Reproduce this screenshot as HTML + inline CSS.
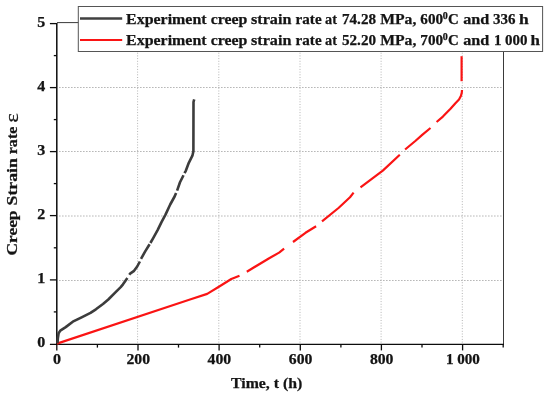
<!DOCTYPE html>
<html><head><meta charset="utf-8">
<style>
html,body{margin:0;padding:0;background:#fff;}
svg{display:block;}
text{font-family:"Liberation Serif","DejaVu Serif",serif;font-weight:bold;fill:#141414;stroke:#141414;stroke-width:0.25px;}
</style></head><body>
<svg width="550" height="394" viewBox="0 0 550 394">
<rect width="550" height="394" fill="#fff"/>
<!-- grid -->
<g stroke="#a8a8a8" stroke-width="1" stroke-dasharray="1.3 1.7" fill="none">
<line x1="59.2" y1="87.5" x2="503" y2="87.5"/>
<line x1="59.2" y1="151.5" x2="503" y2="151.5"/>
<line x1="59.2" y1="216" x2="503" y2="216"/>
<line x1="59.2" y1="280.5" x2="503" y2="280.5"/>
</g>
<g stroke="#b4b4b4" stroke-width="1" stroke-dasharray="1 1.7" fill="none">
<line x1="137.6" y1="23" x2="137.6" y2="343"/>
<line x1="218.8" y1="23" x2="218.8" y2="343"/>
<line x1="300" y1="23" x2="300" y2="343"/>
<line x1="381.1" y1="23" x2="381.1" y2="343"/>
<line x1="462.3" y1="23" x2="462.3" y2="343"/>
</g>
<!-- frame thin -->
<g stroke="#3a3a3a" stroke-width="1" fill="none">
<line x1="57" y1="22.6" x2="503.7" y2="22.6"/>
<line x1="503.5" y1="22" x2="503.5" y2="344"/>
</g>
<!-- main axes -->
<g stroke="#0c0c0c" stroke-width="1.5" fill="none">
<line x1="56.8" y1="22.9" x2="56.8" y2="344.8"/>
<line x1="49.9" y1="344.4" x2="503.9" y2="344.4" stroke-width="1.3"/>
</g>
<g stroke="#0c0c0c" stroke-width="1.3" fill="none">
<line x1="49.9" y1="23.6" x2="56.8" y2="23.6"/>
<line x1="49.9" y1="87.6" x2="56.8" y2="87.6"/>
<line x1="49.9" y1="151.6" x2="56.8" y2="151.6"/>
<line x1="49.9" y1="215.6" x2="56.8" y2="215.6"/>
<line x1="49.9" y1="279.9" x2="56.8" y2="279.9"/>
<line x1="56.8" y1="344" x2="56.8" y2="350.4"/>
<line x1="138.0" y1="344" x2="138.0" y2="350.4"/>
<line x1="219.1" y1="344" x2="219.1" y2="350.4"/>
<line x1="300.3" y1="344" x2="300.3" y2="350.4"/>
<line x1="381.4" y1="344" x2="381.4" y2="350.4"/>
<line x1="462.6" y1="344" x2="462.6" y2="350.4"/>
<line x1="53.8" y1="55.6" x2="56.8" y2="55.6"/>
<line x1="53.8" y1="119.6" x2="56.8" y2="119.6"/>
<line x1="53.8" y1="183.6" x2="56.8" y2="183.6"/>
<line x1="53.8" y1="247.8" x2="56.8" y2="247.8"/>
<line x1="53.8" y1="311.9" x2="56.8" y2="311.9"/>
<line x1="97.4" y1="344" x2="97.4" y2="347.6"/>
<line x1="178.5" y1="344" x2="178.5" y2="347.6"/>
<line x1="259.7" y1="344" x2="259.7" y2="347.6"/>
<line x1="340.9" y1="344" x2="340.9" y2="347.6"/>
<line x1="422.0" y1="344" x2="422.0" y2="347.6"/>
<line x1="503.2" y1="344" x2="503.2" y2="347.6"/>
</g>
<!-- red curve -->
<g stroke="#fa1414" stroke-width="2.2" fill="none" stroke-linecap="butt" stroke-linejoin="round">
<polyline points="57,343.6 190,299.5 207.2,293.9 219.7,286.3 231.3,279 239.5,275.7"/>
<polyline points="246.8,271.7 269.2,258.2 279.1,252.6 284.1,248.6"/>
<polyline points="293,242 305.5,232.8 316.1,226.2"/>
<polyline points="322,221.3 338.5,208 350,197.2 353.6,192.6"/>
<polyline points="360.5,187.3 382.8,170.6 399.8,154.8"/>
<polyline points="405.1,149.5 415.3,141 422.5,134.6 430.5,128"/>
<polyline points="436.6,122 442.9,116.6 450.5,108.7 455.2,103.4 459,99.5 461,95.7 461.8,92.5 462,90"/>
<polyline points="461.6,81.2 461.6,56.2"/>
</g>
<!-- black curve -->
<g stroke="#3c3c3c" stroke-width="2.6" fill="none" stroke-linecap="butt" stroke-linejoin="round">
<polyline points="57.5,343.4 57.9,338 58.6,333.3 60.3,330.6 65.7,327.1 72.8,321.7 81.6,317.3 90.5,312.9 95.9,309.3 103,304 108.3,299.5 115.4,292.4 120.7,287.1 123,284.3 127.4,278"/>
<polyline points="129.3,274.8 130.1,273.6 133.7,271.2 137.2,266.5 139.9,261.5"/>
<polyline points="141,258.8 145.2,251.4 149.6,244.3"/>
<polyline points="150.4,243 153.2,238.1 157.6,230.1 161.5,222.1 165.5,214.6 170.2,204.5 174.6,196.5 176.1,193"/>
<polyline points="177.1,190.6 180,182.3 183.5,175.2"/>
<polyline points="184.5,173.2 185.8,170.8 188.8,162.8 192.4,155.7 193.4,151.2 193.5,102 194.2,99.3"/>
</g>
<!-- legend -->
<rect x="78.3" y="6.5" width="464.3" height="45" fill="#fff" stroke="#555" stroke-width="1"/>
<line x1="80" y1="18.5" x2="122.2" y2="18.5" stroke="#404040" stroke-width="2.5"/>
<line x1="80" y1="40" x2="122.2" y2="40" stroke="#fa1414" stroke-width="2.2"/>
<text y="24.3" font-size="15"><tspan x="126.1" textLength="80.5" lengthAdjust="spacingAndGlyphs">Experiment</tspan> <tspan x="210.7" textLength="36.7" lengthAdjust="spacingAndGlyphs">creep</tspan> <tspan x="251.0" textLength="40.4" lengthAdjust="spacingAndGlyphs">strain</tspan> <tspan x="295.6" textLength="26.0" lengthAdjust="spacingAndGlyphs">rate</tspan> <tspan x="325.0" textLength="11.9" lengthAdjust="spacingAndGlyphs">at</tspan> <tspan x="342.0" textLength="34.0" lengthAdjust="spacingAndGlyphs">74.28</tspan> <tspan x="380.2" textLength="36.2" lengthAdjust="spacingAndGlyphs">MPa,</tspan> <tspan x="420.3" textLength="22.8" lengthAdjust="spacingAndGlyphs">600</tspan> <tspan x="442.8" dy="-5.5" font-size="10">0</tspan><tspan x="448.1" dy="5.5" textLength="10.8" lengthAdjust="spacingAndGlyphs">C</tspan> <tspan x="463.2" textLength="26.1" lengthAdjust="spacingAndGlyphs">and</tspan> <tspan x="493.1" textLength="22.5" lengthAdjust="spacingAndGlyphs">336</tspan> <tspan x="519.0" textLength="9.7" lengthAdjust="spacingAndGlyphs">h</tspan></text>
<text y="45.4" font-size="15"><tspan x="126.1" textLength="80.5" lengthAdjust="spacingAndGlyphs">Experiment</tspan> <tspan x="210.7" textLength="36.7" lengthAdjust="spacingAndGlyphs">creep</tspan> <tspan x="251.0" textLength="40.4" lengthAdjust="spacingAndGlyphs">strain</tspan> <tspan x="295.6" textLength="26.0" lengthAdjust="spacingAndGlyphs">rate</tspan> <tspan x="325.0" textLength="11.9" lengthAdjust="spacingAndGlyphs">at</tspan> <tspan x="342.0" textLength="34.0" lengthAdjust="spacingAndGlyphs">52.20</tspan> <tspan x="380.2" textLength="36.2" lengthAdjust="spacingAndGlyphs">MPa,</tspan> <tspan x="420.3" textLength="22.8" lengthAdjust="spacingAndGlyphs">700</tspan> <tspan x="442.8" dy="-5.5" font-size="10">0</tspan><tspan x="448.1" dy="5.5" textLength="10.8" lengthAdjust="spacingAndGlyphs">C</tspan> <tspan x="463.2" textLength="26.1" lengthAdjust="spacingAndGlyphs">and</tspan> <tspan x="493.9" textLength="33.7" lengthAdjust="spacingAndGlyphs">1 000</tspan> <tspan x="530.4" textLength="9.4" lengthAdjust="spacingAndGlyphs">h</tspan></text>
<!-- tick labels -->
<g font-size="13.7">
<text x="37.3" y="26.65" textLength="8" lengthAdjust="spacingAndGlyphs">5</text>
<text x="37.3" y="90.65" textLength="8" lengthAdjust="spacingAndGlyphs">4</text>
<text x="37.3" y="154.65" textLength="8" lengthAdjust="spacingAndGlyphs">3</text>
<text x="37.3" y="218.65" textLength="8" lengthAdjust="spacingAndGlyphs">2</text>
<text x="37.3" y="282.95" textLength="8" lengthAdjust="spacingAndGlyphs">1</text>
<text x="37.3" y="346.95" textLength="8" lengthAdjust="spacingAndGlyphs">0</text>
</g>
<g font-size="13.7">
<text x="53.1" y="363.8" textLength="8" lengthAdjust="spacingAndGlyphs">0</text>
<text x="126.5" y="363.8" textLength="23.6" lengthAdjust="spacingAndGlyphs">200</text>
<text x="207.6" y="363.8" textLength="23.6" lengthAdjust="spacingAndGlyphs">400</text>
<text x="288.8" y="363.8" textLength="23.6" lengthAdjust="spacingAndGlyphs">600</text>
<text x="369.9" y="363.8" textLength="23.6" lengthAdjust="spacingAndGlyphs">800</text>
<text x="445.9" y="363.8" textLength="34" lengthAdjust="spacingAndGlyphs">1 000</text>
</g>
<text x="231" y="387.8" font-size="14.6" textLength="71.3" lengthAdjust="spacingAndGlyphs">Time, t (h)</text>
<g font-size="15.6">
<text transform="translate(17.4,255.5) rotate(-90)" textLength="45" lengthAdjust="spacingAndGlyphs">Creep</text>
<text transform="translate(17.4,205.4) rotate(-90)" textLength="47.2" lengthAdjust="spacingAndGlyphs">Strain</text>
<text transform="translate(17.4,154.3) rotate(-90)" textLength="27.8" lengthAdjust="spacingAndGlyphs">rate</text>
</g>
<text transform="translate(18,122.8) rotate(-90)" font-size="19" style="font-weight:normal" textLength="9.6" lengthAdjust="spacingAndGlyphs">ε</text>
</svg>
</body></html>
